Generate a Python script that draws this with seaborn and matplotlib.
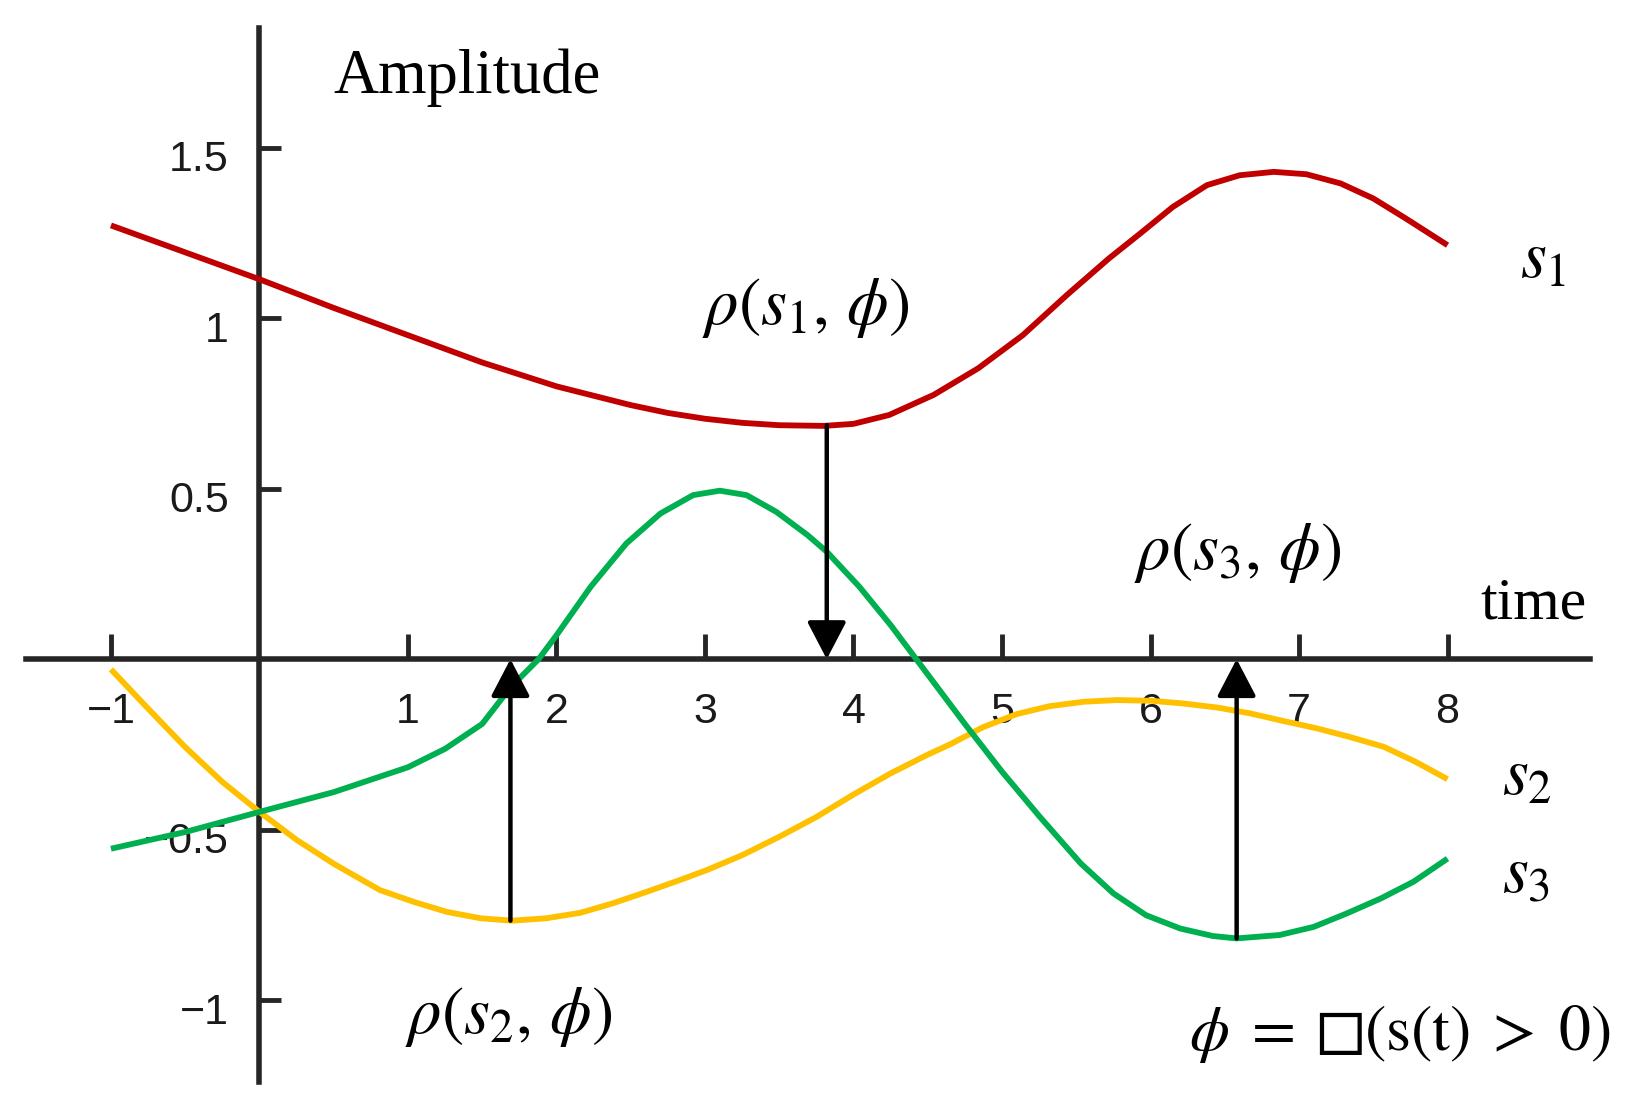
import pandas as pd
import matplotlib.pyplot as plt
import matplotlib.transforms as mtransforms
import seaborn as sns

# values
t1 = [-1, -0.5, 0, 0.5, 1, 1.5, 2, 2.5, 2.75, 3, 3.25, 3.5, 3.8, 4.0, 4.24,
      4.54, 4.84, 5.14, 5.44, 5.72, 5.93, 6.15, 6.38, 6.6, 6.83, 7.05, 7.28,
      7.5, 7.72, 8.0]
s1 = [1.272, 1.193, 1.114, 1.03, 0.95, 0.87, 0.80, 0.745, 0.722, 0.705, 0.693,
      0.686, 0.684, 0.69, 0.716, 0.775, 0.853, 0.95, 1.069, 1.175, 1.248,
      1.326, 1.39, 1.419, 1.429, 1.422, 1.395, 1.351, 1.292, 1.214]

t2 = [-1, -0.75, -0.5, -0.25, 0, 0.25, 0.5, 0.81, 1.04, 1.26, 1.49, 1.70, 1.93,
      2.16, 2.38, 2.61, 2.83, 3.01, 3.25, 3.5, 3.75, 4.0, 4.25, 4.5, 4.65,
      4.87, 5.10, 5.32, 5.55, 5.77, 6.0, 6.22, 6.45, 6.67, 6.89, 7.12, 7.34,
      7.57, 7.78, 8.0]
s2 = [-0.03, -0.145, -0.258, -0.36, -0.448, -0.53, -0.60, -0.677, -0.712,
      -0.741, -0.76, -0.767, -0.76, -0.744, -0.716, -0.682, -0.648, -0.619,
      -0.575, -0.521, -0.463, -0.397, -0.335, -0.28, -0.25, -0.2, -0.161,
      -0.138, -0.125, -0.12, -0.122, -0.13, -0.142, -0.159, -0.181, -0.203,
      -0.228, -0.257, -0.30, -0.352]

t3 = [-1, -0.5, 0, 0.5, 1.0, 1.25, 1.5, 1.69, 1.88, 2.0, 2.23, 2.47, 2.7, 2.92,
      3.1, 3.28, 3.48, 3.69, 3.82, 4.04, 4.25, 4.5, 4.75, 5.0, 5.25, 5.53,
      5.75, 5.97, 6.2, 6.42, 6.58, 6.87, 7.1, 7.32, 7.55, 7.77, 8.0]
s3 = [-0.556, -0.507, -0.448, -0.39, -0.317, -0.263, -0.19, -0.083, 0.0, 0.07,
      0.212, 0.339, 0.427, 0.481, 0.494, 0.481, 0.432, 0.364, 0.315, 0.212,
      0.10, -0.045, -0.19, -0.33, -0.46, -0.599, -0.687, -0.751, -0.79,
      -0.812, -0.819, -0.809, -0.785, -0.746, -0.702, -0.653, -0.585]

colors = {'s1': '#C00000', 's2': '#FFC000', 's3': '#00B050'}

# robustness arrows: (time, start value)
arrows = [(3.82, 0.686), (1.69, -0.767), (6.58, -0.819)]

x_ticks = [-1, 1, 2, 3, 4, 5, 6, 7, 8]
x_labels = ['\u22121', '1', '2', '3', '4', '5', '6', '7', '8']
y_ticks = [-1, -0.5, 0.5, 1, 1.5]
y_labels = ['\u22121', '\u22120.5', '0.5', '1', '1.5']

df = pd.DataFrame({
    'time': t1 + t2 + t3,
    'amp': s1 + s2 + s3,
    'signal': ['s1'] * len(t1) + ['s2'] * len(t2) + ['s3'] * len(t3),
})

sns.set_style('white')
plt.rcParams['font.family'] = ['Liberation Sans', 'DejaVu Sans']
plt.rcParams['mathtext.fontset'] = 'stix'
plt.rcParams['text.color'] = 'black'

fig = plt.figure(figsize=(16.4, 11.13), dpi=100)
ax = fig.add_axes([0, 0, 1, 1])

sns.lineplot(data=df, x='time', y='amp', hue='signal', palette=colors,
             estimator=None, sort=False, lw=4.2, legend=False, ax=ax, zorder=3)
for line in ax.lines:
    line.set_solid_joinstyle('round')
    line.set_solid_capstyle('butt')

ax.set_xlim(-1.747, 9.296)
ax.set_ylim(-1.331, 1.933)

axis_col = '#262626'
for side in ['top', 'right']:
    ax.spines[side].set_visible(False)
ax.spines['left'].set_position(('data', 0))
ax.spines['bottom'].set_position(('data', 0))
ax.spines['left'].set_bounds(-1.24, 1.85)
ax.spines['bottom'].set_bounds(-1.57, 8.96)
for side in ['left', 'bottom']:
    ax.spines[side].set_linewidth(4)
    ax.spines[side].set_color(axis_col)

ax.set_xticks(x_ticks)
ax.set_xticklabels(x_labels)
ax.set_yticks(y_ticks)
ax.set_yticklabels(y_labels)
ax.tick_params(axis='x', bottom=True, direction='in', length=18, width=3.5,
               pad=24, labelsize=31, color=axis_col, labelcolor='#1a1a1a')
ax.tick_params(axis='y', left=True, direction='in', length=16, width=3.5,
               pad=22, labelsize=31, color=axis_col, labelcolor='#1a1a1a')
ax.set_xlabel('')
ax.set_ylabel('')

# y labels sit a little below their ticks in the original
shift = mtransforms.ScaledTranslation(0, -6 / 72, fig.dpi_scale_trans)
for lab in ax.get_yticklabels():
    lab.set_transform(lab.get_transform() + shift)

for x, y0 in arrows:
    ax.annotate('', xy=(x, 0), xytext=(x, y0),
                arrowprops=dict(arrowstyle='-|>,head_length=1.15,head_width=0.6',
                                mutation_scale=20, color='black', lw=3.2,
                                shrinkA=0, shrinkB=0),
                zorder=4)

ax.text(0.5, 1.66, 'Amplitude', family='Liberation Serif', fontsize=45,
        ha='left', va='baseline')
ax.text(8.22, 0.12, 'time', family='Liberation Serif', fontsize=43,
        ha='left', va='baseline')

ax.text(3.68, 1.03, r'$\rho(s_1,\,\phi)$', fontsize=48, ha='center', va='center')
ax.text(1.68, -1.05, r'$\rho(s_2,\,\phi)$', fontsize=48, ha='center', va='center')
ax.text(6.59, 0.31, r'$\rho(s_3,\,\phi)$', fontsize=48, ha='center', va='center')

ax.text(8.49, 1.12, r'$s_1$', fontsize=48, ha='left', va='baseline')
ax.text(8.37, -0.396, r'$s_2$', fontsize=48, ha='left', va='baseline')
ax.text(8.37, -0.683, r'$s_3$', fontsize=48, ha='left', va='baseline')

ax.text(7.68, -1.10,
        '$\\phi\\;=\\;\u25fb(\\mathrm{s}(\\mathrm{t})\\;>\\;0)$',
        fontsize=46, ha='center', va='center')

fig.savefig('out.png', dpi=100)
